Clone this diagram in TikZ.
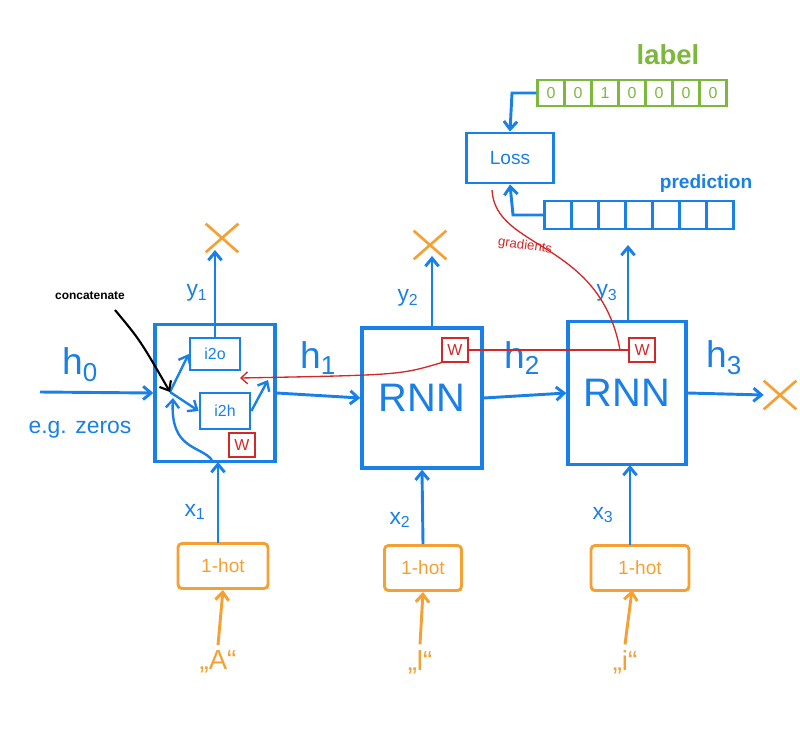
\documentclass[tikz,border=0pt]{standalone}
\usepackage{fontspec}
\setmainfont{Liberation Sans}
\begin{document}
\begin{tikzpicture}[x=0.0265cm,y=-0.0265cm,line width=2.2pt,
  arr/.style={-{Straight Barb[length=6pt,width=10pt]}},
  btxt/.style={text=myblue,font=\LARGE},
  otxt/.style={text=myorange,font=\Large},
  rnn/.style={draw=myblue,line width=2.5pt},
  hot/.style={draw=myorange,rounded corners=3pt,minimum height=45*0.0265cm,text=myorange,font=\Large},
  wbox/.style={draw=myred,line width=1pt,minimum width=26*0.0265cm,minimum height=24*0.0265cm,text=myred,font=\large},
  cell/.style={draw,minimum width=27*0.0265cm,inner sep=0pt,line width=1.8pt},
  xmark/.style={draw=myorange,cross out,line width=2pt,minimum width=30*0.0265cm,minimum height=26*0.0265cm,inner sep=0pt}]
\definecolor{myblue}{RGB}{24,128,230}
\definecolor{myorange}{RGB}{245,160,50}
\definecolor{mygreen}{RGB}{124,184,60}
\definecolor{myred}{RGB}{210,40,40}
\usetikzlibrary{arrows.meta,shapes.misc}
\useasboundingbox (0,0) rectangle (800,736);
% RNN boxes
\node[rnn,minimum width=120*0.0265cm,minimum height=137*0.0265cm] (b1) at (215,393) {};
\node[rnn,minimum width=120*0.0265cm,minimum height=140*0.0265cm,text=myblue,font=\fontsize{30}{30}\selectfont] (b2) at (422,398) {RNN};
\node[rnn,minimum width=118*0.0265cm,minimum height=143*0.0265cm,text=myblue,font=\fontsize{30}{30}\selectfont] (b3) at (627,393) {RNN};
% W boxes
\node[wbox] (w1) at (242,445) {W};
\node[wbox] (w2) at (455,350) {W};
\node[wbox] (w3) at (642,350) {W};
% inner of box1
\node[draw=myblue,line width=2pt,minimum width=50*0.0265cm,minimum height=32*0.0265cm,text=myblue,font=\large] (i2o) at (215,354) {i2o};
\node[draw=myblue,line width=2pt,minimum width=50*0.0265cm,minimum height=36*0.0265cm,text=myblue,font=\large] (i2h) at (225,411) {i2h};
\coordinate (cc) at (170,392);
\draw[myblue,arr,line width=1.8pt] (cc) -- (i2o.west);
\draw[myblue,arr,line width=1.8pt] (cc) -- (i2h.west);
\draw[myblue,arr,line width=1.8pt] (i2h.east) -- (268,380);
\draw[myblue,line width=1.8pt] (i2o.north) -- (215,325);
\draw[myblue,arr,line width=1.8pt] (212,460) .. controls (200,445) and (170,450) .. (173,398);
% h arrows
\coordinate (h0s) at (40,392);
\draw[myblue,arr] (h0s) -- (b1.west);
\node[btxt,font=\fontsize{28}{28}\selectfont] (h0) at (80,365) {h\textsubscript{0}};
\node[btxt] (ez) at (80,430) {e.g. zeros};
\draw[myblue,arr] (b1.east) -- (b2.west);
\node[btxt,font=\fontsize{28}{28}\selectfont] (h1) at (318,358) {h\textsubscript{1}};
\draw[myblue,arr] (b2.east) -- (b3.west);
\node[btxt,font=\fontsize{28}{28}\selectfont] (h2) at (522,358) {h\textsubscript{2}};
\node[xmark] (x4) at (780,395) {};
\draw[myblue,arr] (b3.east) -- (x4.west);
\node[btxt,font=\fontsize{28}{28}\selectfont] (h3) at (724,358) {h\textsubscript{3}};
% outputs
\node[xmark] (x1) at (222,238) {};
\node[xmark] (x2) at (430,245) {};
\coordinate (o3) at (628,245);
\draw[myblue,arr] (b1.north) -- (215,250);
\draw[myblue,arr] (432,328) -- (432,256);
\draw[myblue,arr] (628,322) -- (o3);
\node[btxt] (y1) at (197,293) {y\textsubscript{1}};
\node[btxt] (y2) at (408,298) {y\textsubscript{2}};
\node[btxt] (y3) at (607,293) {y\textsubscript{3}};
% inputs
\node[hot,minimum width=90*0.0265cm] (k1) at (223,566) {1-hot};
\node[hot,minimum width=77*0.0265cm] (k2) at (423,568) {1-hot};
\node[hot,minimum width=98*0.0265cm] (k3) at (640,568) {1-hot};
\draw[myblue,arr] (218,543) -- (218,462);
\draw[myblue,arr] (k2.north) -- (b2.south);
\draw[myblue,arr] (630,545) -- (630,465);
\node[btxt] (x1l) at (195,512) {x\textsubscript{1}};
\node[btxt] (x2l) at (400,520) {x\textsubscript{2}};
\node[btxt] (x3l) at (603,515) {x\textsubscript{3}};
\node[otxt] (a1) at (218,662) {\huge ,,A``};
\node[otxt] (a2) at (420,662) {\huge ,,l``};
\node[otxt] (a3) at (625,662) {\huge ,,i``};
\draw[myorange,arr] (a1.north) -- (k1.south);
\draw[myorange,arr] (a2.north) -- (k2.south);
\draw[myorange,arr] (a3.north) -- (632,590);
% concatenate
\node[font=\small\bfseries] (cat) at (90,296) {concatenate};
\draw[black,arr,line width=1.6pt] (115,310) .. controls (140,340) .. (cc);
% loss
\node[draw=myblue,minimum width=87*0.0265cm,minimum height=50*0.0265cm,text=myblue,font=\Large] (loss) at (510,158) {Loss};
\foreach \v [count=\i] in {0,0,1,0,0,0,0}
  \node[cell,draw=mygreen,text=mygreen,minimum height=26*0.0265cm] (l\i) at (524+\i*27,93) {\large\v};
\node[text=mygreen,font=\huge\bfseries] (lab) at (668,55) {label};
\draw[myblue,arr] (l1.west) -- (512,93) -- (loss.north);
\foreach \i in {1,...,7}
  \node[cell,draw=myblue,minimum height=28*0.0265cm] (p\i) at (531+\i*27,215) {};
\node[text=myblue,font=\Large\bfseries] (pred) at (706,184) {prediction};
\draw[myblue,arr] (p1.west) -- (513,215) -- (loss.south);
% gradients
\node[text=myred,font=\normalsize,rotate=-8] (gr) at (525,246) {gradients};
\draw[myred,line width=1pt] (492,190) .. controls (495,250) and (600,240) .. (620,350);
\draw[myred,line width=1pt] (w3.west) -- (w2.east);
\draw[myred,line width=1pt,-{Straight Barb[length=5pt,width=9pt]}] (w2.south west) .. controls (400,375) .. (240,378);
\end{tikzpicture}
\end{document}
